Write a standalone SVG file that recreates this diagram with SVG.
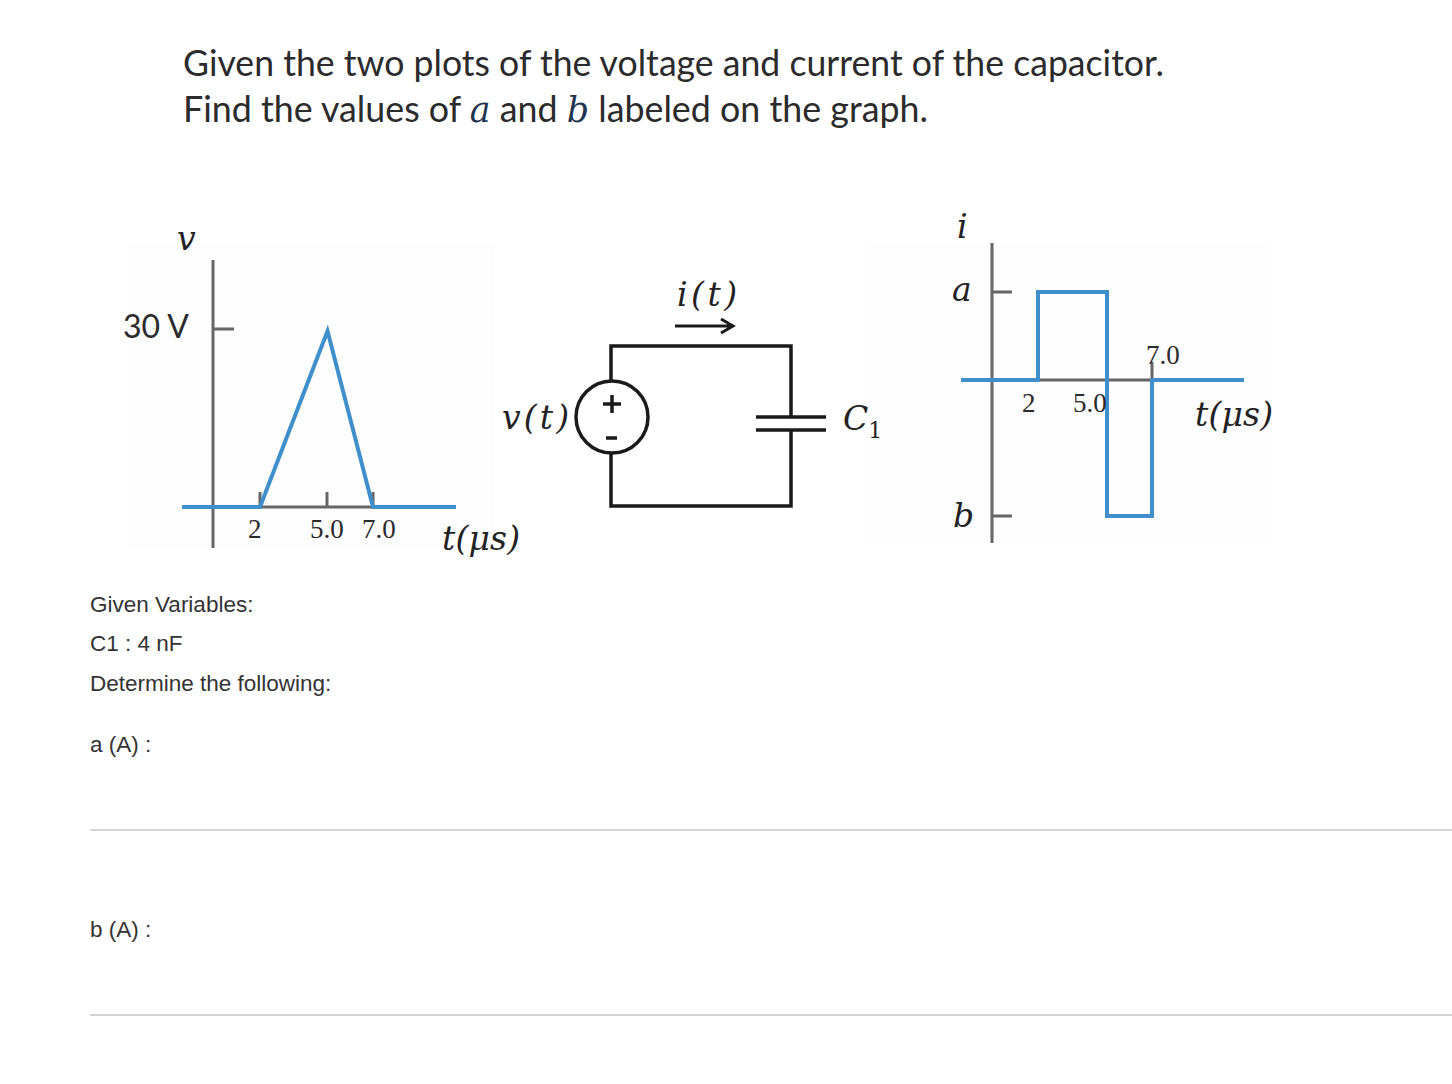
<svg xmlns="http://www.w3.org/2000/svg" width="1452" height="1084" viewBox="0 0 1452 1084">
<style>
.h{font-family:"Lato","Open Sans",sans-serif;font-size:36px;fill:#2b2b2b}
.m{font-family:"DejaVu Serif","Liberation Serif",serif;font-style:italic;font-size:33px;fill:#222}
.mi{font-family:"DejaVu Serif","Liberation Serif",serif;font-style:italic;font-size:35px;fill:#1f3550}
.n{font-family:"Liberation Serif",serif;font-size:27px;fill:#2a2a2a}
.b{font-family:"Liberation Sans",Arial,sans-serif;font-size:22.500px;fill:#333}
.ax{stroke:#666;stroke-width:3;fill:none}
.bl{stroke:#3f8fcb;stroke-width:4;fill:none}
.k{stroke:#1a1a1a;stroke-width:3.500;fill:none}
.r{stroke:#c4c4c4;stroke-width:1.500}
.p{fill:#fdfdfd}
</style>
<g id="question">
<text class="h" x="183" y="76" textLength="981" lengthAdjust="spacingAndGlyphs">Given the two plots of the voltage and current of the capacitor.</text>
<text class="h" x="183" y="122" textLength="745" lengthAdjust="spacingAndGlyphs">Find the values of <tspan class="mi">a</tspan> and <tspan class="mi">b</tspan> labeled on the graph.</text>
</g>
<g id="voltage-plot">
<rect class="p" x="128" y="243" width="367" height="305"/>
<path class="ax" d="M213 260V548M213 329H234M327 492V507M260 507H373"/>
<path class="ax" stroke-width="1.500" d="M260 492V507M373 492V507"/>
<path class="bl" d="M182 507H260L327.500 331L373 507H456"/>
<text class="m" x="177" y="250">v</text>
<text class="h" x="123" y="338" style="font-size:32px">30 V</text>
<text class="n" x="248" y="538">2</text>
<text class="n" x="310" y="538">5.0</text>
<text class="n" x="362" y="538">7.0</text>
<text class="m" x="442" y="550" textLength="78">t(μs)</text>
</g>
<g id="current-plot">
<rect class="p" x="870" y="243" width="396" height="302"/>
<path class="ax" d="M992 243V543M992 292H1012M992 516H1012M1038 380H1152"/>
<path class="ax" stroke-width="1.500" d="M1152 380V362"/>
<path class="bl" d="M961 380H1038V292H1107V516H1152V380H1244"/>
<text class="m" x="957" y="238">i</text>
<text class="m" x="952" y="301">a</text>
<text class="m" x="953" y="527">b</text>
<text class="n" x="1022" y="412">2</text>
<text class="n" x="1073" y="412">5.0</text>
<text class="n" x="1146" y="364">7.0</text>
<text class="m" x="1195" y="426" textLength="78">t(μs)</text>
</g>
<g id="circuit">
<path class="k" d="M611 381V346H791V417M791 430V506H611V453"/>
<path class="k" d="M756 417H826M756 430H826"/>
<circle class="k" cx="612" cy="417" r="36"/>
<path class="k" d="M603 404H621M612 395V413M606 438H617"/>
<path d="M675 326H732M721 319L733 326L721 333" fill="none" stroke="#1a1a1a" stroke-width="3"/>
<text class="m" x="677" y="306" textLength="60">i(t)</text>
<text class="m" x="502" y="429" textLength="67">v(t)</text>
<text class="m" x="843" y="430">C<tspan font-size="22" dy="8" font-style="normal">1</tspan></text>
</g>
<g id="form">
<text class="b" x="90" y="612">Given Variables:</text>
<text class="b" x="90" y="651">C1 : 4 nF</text>
<text class="b" x="90" y="691">Determine the following:</text>
<text class="b" x="90" y="752">a (A) :</text>
<line class="r" x1="90" y1="830" x2="1452" y2="830"/>
<text class="b" x="90" y="937">b (A) :</text>
<line class="r" x1="90" y1="1015" x2="1452" y2="1015"/>
</g>
</svg>
